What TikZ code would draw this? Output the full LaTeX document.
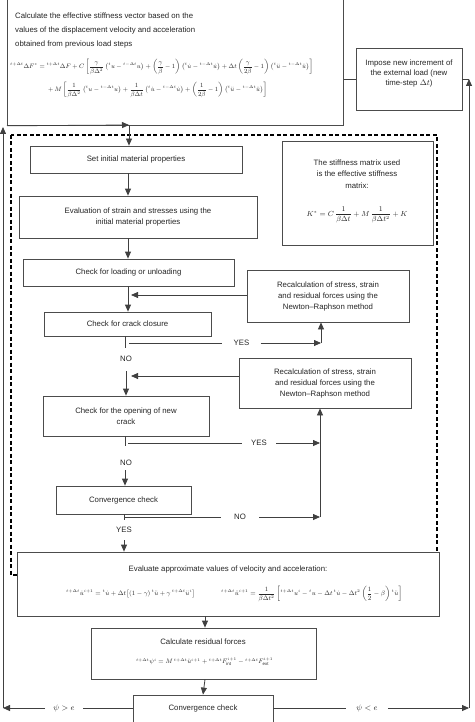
\documentclass[tikz,border=0pt]{standalone}
\usepackage{fontspec}
\setmainfont{Liberation Sans}
\usepackage{amsmath}
\usepackage{graphicx}
\usetikzlibrary{arrows.meta}
\newcommand{\figfont}{\fontsize{7.8}{11}\selectfont}
\newcommand{\fw}[2]{\resizebox{#1pt}{!}{$\displaystyle #2$}}
\begin{document}
\begin{tikzpicture}[x=1pt,y=-1pt,
  box/.style={draw=black!70, line width=0.8pt, fill=white, inner sep=0pt, align=center, font=\figfont, text=black!85},
  arr/.style={draw=black!75, line width=0.8pt, -{Triangle[length=7pt,width=6pt]}},
  ln/.style={draw=black!75, line width=0.8pt},
  lbl/.style={font=\figfont, text=black!85, inner sep=0pt, align=center},
  gaplbl/.style={font=\figfont, text=black!85, inner ysep=0pt, fill=white},
  dashbox/.style={draw=black, line width=1.8pt, dash pattern=on 4pt off 2.5pt}]
\useasboundingbox (0,0) rectangle (474,722);

% dashed region
\draw[dashbox] (11,135) rectangle (437,575);

% top box
\node[box, anchor=north west, minimum width=336pt, minimum height=131pt] (top) at (7,-6) {};
\node[lbl, anchor=base west] (t1) at (15,18.5) {Calculate the effective stiffness vector based on the};
\node[lbl, anchor=base west] (t2) at (15,32.5) {values of the displacement velocity and acceleration};
\node[lbl, anchor=base west] (t3) at (15,46.5) {obtained from previous load steps};
\node[lbl, anchor=west] (f1) at (10,67) {\fw{303}{{}^{t+\Delta t}\Delta F^{*} = {}^{t+\Delta t}\Delta F + C\left[\frac{\gamma}{\beta\Delta^{2}}\left({}^{t}u - {}^{t-\Delta t}u\right) + \left(\frac{\gamma}{\beta}-1\right)\left({}^{t}\dot u - {}^{t-\Delta t}\dot u\right) + \Delta t\left(\frac{\gamma}{2\beta}-1\right)\left({}^{t}\ddot u - {}^{t-\Delta t}\ddot u\right)\right]}};
\node[lbl, anchor=west] (f2) at (48,90) {\fw{219}{+\, M\left[\frac{1}{\beta\Delta^{2}}\left({}^{t}u - {}^{t-\Delta t}u\right) + \frac{1}{\beta\Delta t}\left({}^{t}\dot u - {}^{t-\Delta t}\dot u\right) + \left(\frac{1}{2\beta}-1\right)\left({}^{t}\ddot u - {}^{t-\Delta t}\ddot u\right)\right]}};

% impose box
\node[box, minimum width=106pt, minimum height=62pt] (imp) at (409,79) {};
\node[lbl, font=\fontsize{7.8}{10}\selectfont] (impt) at (409,73) {Impose new increment of\\the external load (new\\time-step $\Delta t$)};

% inner boxes
\node[box, minimum width=212pt, minimum height=27pt] (set) at (136,159.5) {Set initial material properties};
\node[box, minimum width=238pt, minimum height=42pt] (ev) at (138,217) {Evaluation of strain and stresses using the\\initial material properties};
\node[box, minimum width=211pt, minimum height=27pt] (ld) at (128.5,272.5) {Check for loading or unloading};
\node[box, minimum width=167pt, minimum height=24pt] (cc) at (127.5,324) {Check for crack closure};
\node[box, minimum width=166pt, minimum height=40pt] (op) at (126,416) {Check for the opening of new\\crack};
\node[box, minimum width=135pt, minimum height=28pt] (cv) at (123.5,500) {Convergence check};
\node[box, minimum width=151pt, minimum height=104pt] (st) at (357.5,193) {};
\node[lbl, font=\fontsize{7.8}{11.5}\selectfont] (stt) at (357,174) {The stiffness matrix used\\is the effective stiffness\\matrix:};
\node[lbl] (stf) at (357,215) {\fw{101}{K^{*} = C\,\frac{1}{\beta\Delta t} + M\,\frac{1}{\beta\Delta t^{2}} + K}};
\node[box, minimum width=162pt, minimum height=52pt] (r1) at (328,296) {Recalculation of stress, strain\\and residual forces using the\\Newton--Raphson method};
\node[box, minimum width=172pt, minimum height=50pt] (r2) at (325,383) {Recalculation of stress, strain\\and residual forces using the\\Newton--Raphson method};

% lower boxes
\node[box, minimum width=422pt, minimum height=64pt] (ev2) at (228,584) {};
\node[lbl] (ev2t) at (228,569) {Evaluate approximate values of velocity and acceleration:};
\node[lbl, anchor=west] (ev2a) at (66,594) {\fw{129}{{}^{t+\Delta t}\dot u^{i+1} = {}^{t}\dot u + \Delta t\big[(1-\gamma)\,{}^{t}\ddot u + \gamma\,{}^{t+\Delta t}\ddot u^{i}\big]}};
\node[lbl, anchor=west] (ev2b) at (221,594) {\fw{181}{{}^{t+\Delta t}\ddot u^{i+1} = \frac{1}{\beta\Delta t^{2}}\left[{}^{t+\Delta t}u^{i} - {}^{t}u - \Delta t\,{}^{t}\dot u - \Delta t^{2}\left(\frac{1}{2}-\beta\right){}^{t}\ddot u\right]}};
\node[box, minimum width=225pt, minimum height=51pt] (res) at (203.5,653.5) {};
\node[lbl] (rest) at (203,642) {Calculate residual forces};
\node[lbl] (resf) at (204.5,662) {\fw{137}{{}^{t+\Delta t}\psi^{i} = M\,{}^{t+\Delta t}\ddot u^{i+1} + {}^{t+\Delta t}F^{i+1}_{\mathrm{int}} - {}^{t+\Delta t}F^{i+1}_{\mathrm{ext}}}};
\node[box, minimum width=140pt, minimum height=40pt] (cb) at (203,715) {};
\node[lbl] (cbt) at (203,708) {Convergence check};

% outer loop
\coordinate (lc) at (3,708);
\coordinate (lt) at (3,127);
\coordinate (rc) at (469,708);
\coordinate (rt) at (469,79);
\coordinate (tb) at (129,125);
\node[gaplbl, inner xsep=8pt] (psil) at (64,708) {$\psi > e$};
\node[gaplbl, inner xsep=10pt] (psir) at (367,708) {$\psi < e$};
\draw[ln] (cbt -| cb.west) -- (psil);
\draw[arr] (psil) -- (lc);
\draw[arr] (lc) -- (lt);
\draw[ln] (cbt -| cb.east) -- (psir);
\draw[arr] (psir) -- (rc);
\draw[arr] (rc) -- (rt);
\draw[ln] (imp.east) -- (rt);
\draw[ln] (top.east |- imp.west) -- (imp.west);
\draw[arr] (top.south west) -- (tb);
\draw[arr] (tb) -- (tb |- set.north);

% main column
\coordinate (cx) at (128,0);
\draw[arr] (set.south -| cx) -- (ev.north -| cx);
\draw[arr] (ev.south -| cx) -- (ld.north -| cx);
\draw[arr] (ld.south -| cx) -- (cc.north -| cx);
\coordinate (r1a) at (131,295);
\draw[arr] (r1.west |- r1a) -- (r1a);

% crack closure branch
\coordinate (k1) at (125,0);
\draw[ln] (cc.south -| k1) -- ++(0,12);
\coordinate (y1s) at (129,343);
\coordinate (y1e) at (321,343);
\node[gaplbl, inner xsep=11pt] (yes1) at (241.5,343) {YES};
\draw[ln] (y1s) -- (yes1);
\draw[arr] (yes1) -- (y1e);
\draw[arr] (y1e) -- (r1.south -| y1e);
\node[lbl] (no1) at (126,359) {NO};
\coordinate (n1) at (126,371);
\draw[arr] (n1) -- (op.north -| n1);
\coordinate (r2a) at (131,376);
\draw[arr] (r2.west |- r2a) -- (r2a);

% opening branch
\draw[ln] (op.south -| k1) -- ++(0,10);
\coordinate (y2s) at (128,443);
\coordinate (y2e) at (320,443);
\node[gaplbl, inner xsep=9pt] (yes2) at (259,443) {YES};
\draw[ln] (y2s) -- (yes2);
\draw[arr] (yes2) -- (y2e);
\draw[arr] (y2e) -- (r2.south -| y2e);
\node[lbl] (no2) at (126,463) {NO};
\coordinate (n2) at (125,470);
\draw[arr] (n2) -- (cv.north -| n2);

% convergence branch
\coordinate (k3) at (124,0);
\draw[ln] (cv.south -| k3) -- ++(0,6);
\coordinate (n3s) at (124,517);
\coordinate (n3e) at (320,517);
\node[gaplbl, inner xsep=13pt] (no3) at (240,517) {NO};
\draw[ln] (n3s) -- (no3);
\draw[arr] (no3) -- (n3e);
\draw[ln] (n3e) -- (y2e);
\node[lbl] (yes3) at (124,530) {YES};
\coordinate (y3) at (124,540);
\draw[arr] (y3) -- (ev2.north -| y3);

% lower column
\coordinate (cl) at (205,0);
\draw[arr] (ev2.south -| cl) -- (res.north -| cl);
\draw[arr] (res.south -| cl) -- (cbt |- cb.north);
\end{tikzpicture}
\end{document}
